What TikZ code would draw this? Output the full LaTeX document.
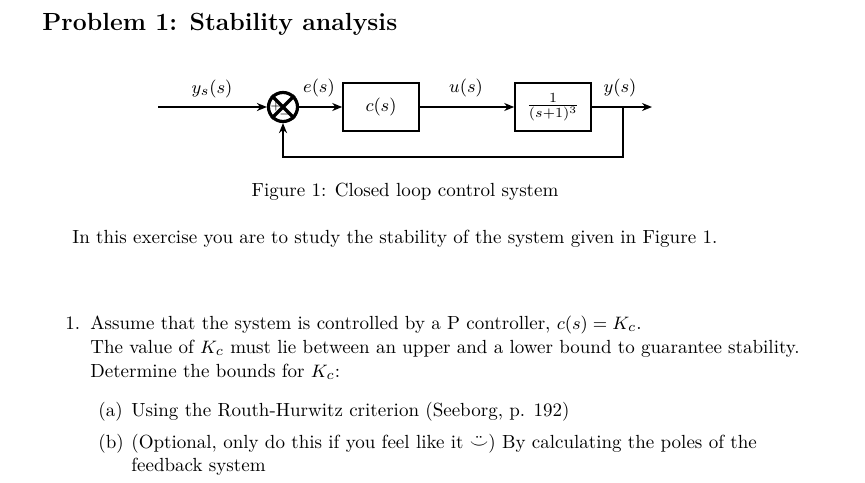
\documentclass[tikz,border=0pt]{standalone}
\usetikzlibrary{arrows.meta}
\begin{document}
\begin{tikzpicture}[x=0.5pt,y=-0.5pt,font=\fontsize{9.5}{11}\selectfont,
  txt/.style={anchor=base west,inner sep=0pt},
  blk/.style={draw,line width=0.8pt,minimum width=38pt,minimum height=24pt,inner sep=0pt},
  sig/.style={line width=1.2pt,-{Stealth[length=5pt,width=4pt]}},
  lbl/.style={inner sep=0pt}]
\useasboundingbox (0,0) rectangle (865,482);
\node[txt,font=\fontsize{12.4}{15}\selectfont\bfseries] (title) at (42,30) {Problem 1: Stability analysis};
% diagram
\coordinate (in) at (158,107);
\node[circle,draw,line width=1.6pt,minimum size=14.5pt,inner sep=0pt] (sum) at (283,107) {};
\draw[line width=1.6pt] (sum.north west) -- (sum.south east) (sum.north east) -- (sum.south west);
\node[font=\fontsize{6}{6}\selectfont,inner sep=0pt] (plus) at (276,106) {$+$};
\node[font=\fontsize{6}{6}\selectfont,inner sep=0pt] (minus) at (285,114) {$-$};
\node[blk] (c) at (381,107) {$c(s)$};
\node[blk] (g) at (553,107) {$\frac{1}{(s+1)^3}$};
\coordinate (out) at (652,107);
\coordinate (br) at (623,107);
\coordinate (fb) at (623,157);
\draw[sig] (in) -- (sum);
\draw[sig] (sum) -- (c);
\draw[sig] (c) -- (g);
\draw[sig] (g) -- (out);
\draw[sig] (br) -- (fb) -| (sum.south);
\node[lbl] (ys) at (212,89) {$y_s(s)$};
\node[lbl] (es) at (319,88) {$e(s)$};
\node[lbl] (us) at (466,88) {$u(s)$};
\node[lbl] (yo) at (620,88) {$y(s)$};
% text
\node[lbl] (cap) at (405,192) {Figure 1: Closed loop control system};
\node[txt] (intro) at (72,243) {In this exercise you are to study the stability of the system given in Figure 1.};
\node[txt] (n1) at (65,329) {1.};
\node[txt] (l1) at (90,329) {Assume that the system is controlled by a P controller, $c(s)=K_c$.};
\node[txt] (l2) at (90,353) {The value of $K_c$ must lie between an upper and a lower bound to guarantee stability.};
\node[txt] (l3) at (90,377) {Determine the bounds for $K_c$:};
\node[txt] (na) at (98,416) {(a)};
\node[txt] (la) at (131,416) {Using the Routh-Hurwitz criterion (Seeborg, p. 192)};
\node[txt] (nb) at (98,448) {(b)};
\node[txt] (lb) at (131,448) {(Optional, only do this if you feel like it $\ddot\smile$) By calculating the poles of the};
\node[txt] (lb2) at (131,471) {feedback system};
\end{tikzpicture}
\end{document}
